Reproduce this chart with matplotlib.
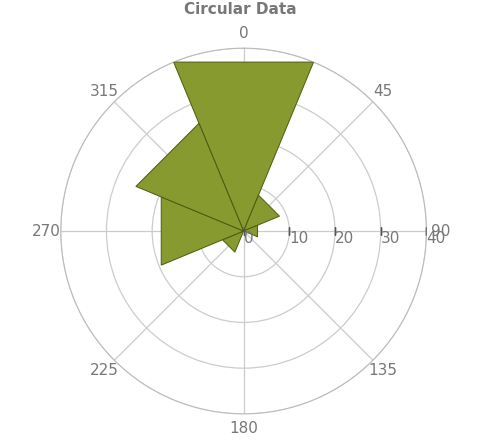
import numpy as np
import matplotlib
matplotlib.use("Agg")
import matplotlib.pyplot as plt

directions = [0, 45, 90, 135, 180, 225, 270, 315]
values = [40, 8.5, 3.3, 0, 0, 5, 19.5, 25.5]
rticks = [0, 10, 20, 30, 40]

fig = plt.figure(figsize=(4.8, 4.46), dpi=100)
ax = fig.add_axes([0.125, 0.072, 0.765, 0.82], projection='polar')
ax.set_theta_zero_location('N')
ax.set_theta_direction(-1)
half = 22.5
for d, v in zip(directions, values):
    if v <= 0:
        continue
    th = np.deg2rad([d, d - half, d + half, d])
    rr = [0, v, v, 0]
    ax.fill(th, rr, facecolor='#879a2f', edgecolor='#4a5a10', linewidth=0.7, zorder=3)
ax.set_ylim(0, 40)
ax.set_yticks(rticks)
ax.set_yticklabels([])
for t in rticks:
    ax.text(np.deg2rad(90), t, str(t), color='#777777', fontsize=11,
            ha='left', va='top', transform=ax.transData)
    ax.plot([np.deg2rad(90), np.deg2rad(90)], [t, t], marker='|', color='#555555', ms=6, zorder=4)
ax.set_rlabel_position(90)
ax.set_xticks(np.deg2rad(directions))
ax.set_xticklabels([str(d) for d in directions], color='#777777', fontsize=11)
ax.tick_params(axis='x', pad=0)
ax.grid(color='#cccccc', linewidth=0.9)
ax.spines['polar'].set_color('#bbbbbb')
fig.suptitle('Circular Data', fontsize=11, fontweight='bold', color='#777777', y=0.995)
fig.savefig('out.png', dpi=100)
